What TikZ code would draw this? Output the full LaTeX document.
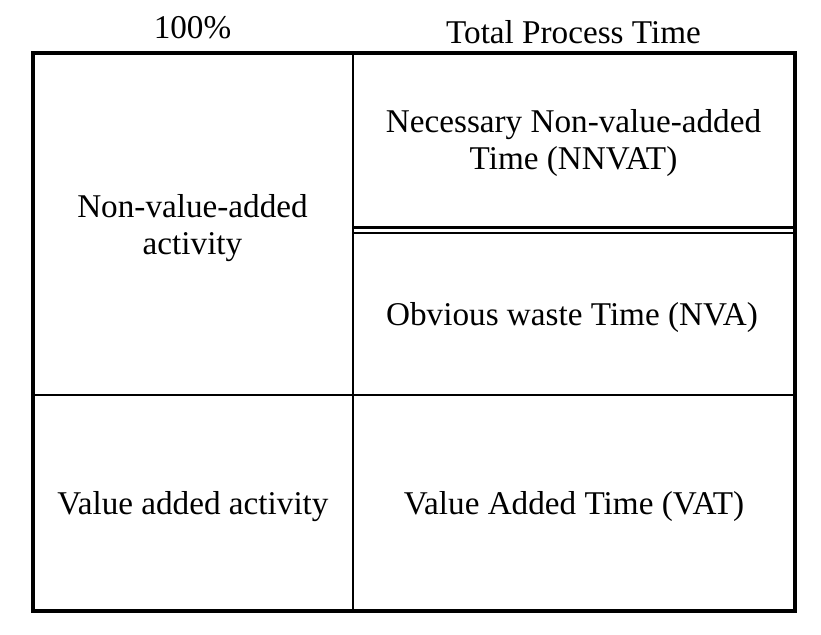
\documentclass[tikz,border=0pt]{standalone}
\usepackage{fontspec}
\setmainfont{Liberation Serif}
\begin{document}
\begin{tikzpicture}[x=1pt,y=-1pt,
  lbl/.style={inner sep=0pt,font=\fontsize{33.2}{37}\selectfont,align=center},
  outer/.style={line width=4pt,line join=miter},
  inner/.style={line width=2pt},
  dbl/.style={line width=2.5pt}]
\useasboundingbox (0,0) rectangle (821,634);
% frame
\draw[outer] (33,53.5) rectangle (794.5,611);
\draw[inner] (353,53.5) -- (353,611);
\draw[inner] (33,395) -- (794.5,395);
\draw[dbl] (353,227.5) -- (794.5,227.5);
\draw[dbl] (353,233) -- (794.5,233);
% headings
\node[lbl,anchor=base] (pct) at (192.5,39) {100\%};
\node[lbl,anchor=base] (tpt) at (573.5,44) {Total Process Time};
% cells
\node[lbl] (nva) at (192.5,228.5) {Non-value-added\\activity};
\node[lbl] (nnvat) at (573.5,143.5) {Necessary Non-value-added\\Time (NNVAT)};
\node[lbl,anchor=base] (waste) at (572,325) {Obvious waste Time (NVA)};
\node[lbl,anchor=base] (vaa) at (193,514) {Value added activity};
\node[lbl,anchor=base] (vat) at (574,514) {Value Added Time (VAT)};
\end{tikzpicture}
\end{document}
